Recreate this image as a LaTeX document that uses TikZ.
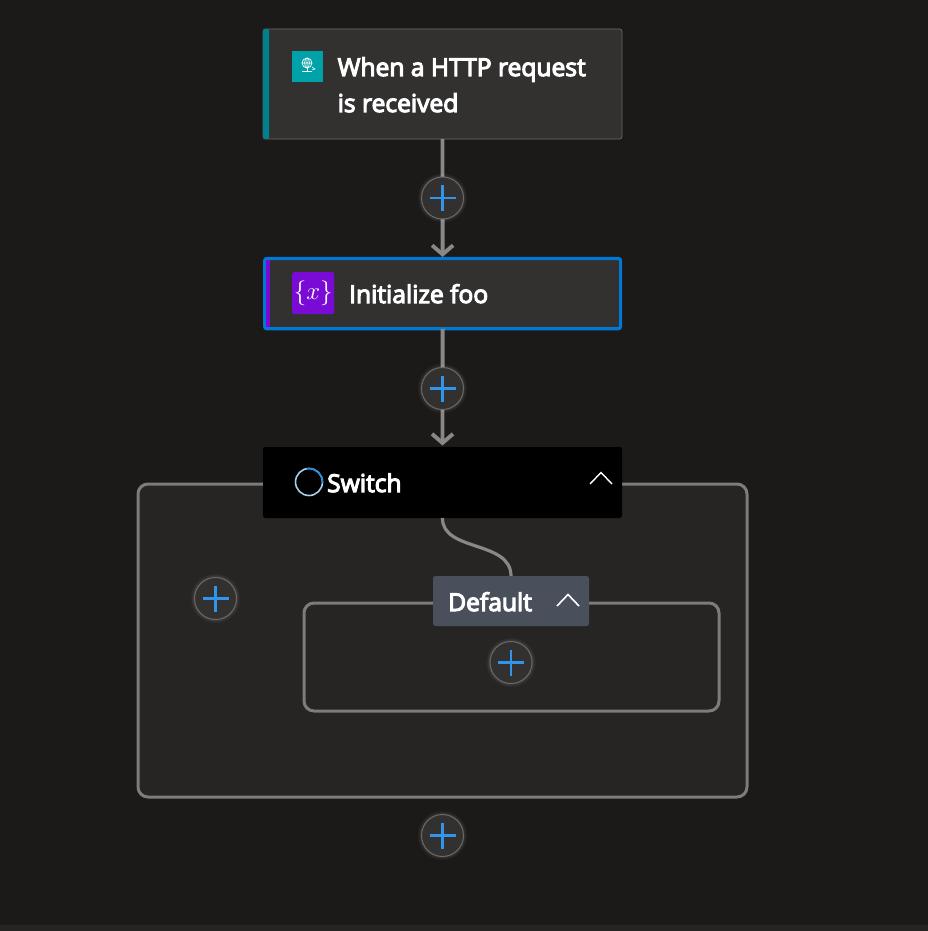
\documentclass[tikz,border=0pt]{standalone}
\usepackage{fontspec}
\setmainfont{Open Sans}[FakeBold=4.5]
\usetikzlibrary{arrows.meta,calc}
\definecolor{bgdark}{HTML}{1B1A19}
\definecolor{bandc}{HTML}{252423}
\definecolor{cardc}{HTML}{323130}
\definecolor{contc}{HTML}{262524}
\definecolor{linec}{HTML}{8A8886}
\definecolor{contline}{HTML}{7D7C7A}
\definecolor{edgec}{HTML}{6A6968}
\definecolor{plusc}{HTML}{2F96EC}
\definecolor{bluec}{HTML}{0078D4}
\definecolor{tealc}{HTML}{007F8C}
\definecolor{tealicon}{HTML}{00A2AA}
\definecolor{purplec}{HTML}{7A0BD6}
\definecolor{defc}{HTML}{4A505B}
\tikzset{
  cardbox/.style={rectangle,rounded corners=2.5pt,minimum width=359pt,inner sep=0pt,outer sep=0pt,anchor=north west},
  label/.style={text=white,font=\fontsize{24.6}{36}\selectfont,anchor=base west,inner sep=0pt,align=left},
  flow/.style={draw=linec,line width=3.9pt},
  flowarrow/.style={flow,shorten >=1.5pt,-{Straight Barb[length=9pt,width=21pt,line width=3.9pt]}},
  contbox/.style={rectangle,draw=contline,line width=3pt,rounded corners=10pt,inner sep=0pt,outer sep=0pt,anchor=north west},
  addbtn/.style={circle,minimum size=42pt,inner sep=0pt,outer sep=0pt,fill=cardc,draw=edgec,line width=1pt,
    path picture={\draw[plusc,line width=2.6pt] ($(path picture bounding box.center)+(-13pt,0)$)--++(26pt,0)
      ($(path picture bounding box.center)+(0,-13pt)$)--++(0,26pt);}},
  chev/.style={draw=white,line width=1.4pt},
}
\newcommand{\addglow}[1]{\foreach \r/\o in {25/0.02,24/0.03,23/0.04,22/0.05}{\fill[white,opacity=\o] (#1) circle (\r pt);}}
\begin{document}
\begin{tikzpicture}[x=1pt,y=-1pt]
\useasboundingbox (0,0) rectangle (928,931);
\fill[bgdark] (0,0) rectangle (928,931);
\fill[bandc] (0,925) rectangle (928,931);
% containers
\node[contbox,fill=contc,minimum width=609pt,minimum height=313pt] (outer) at (138,484) {};
\node[contbox,fill=contc,minimum width=415pt,minimum height=108pt] (inner) at (304,603) {};
% cards
\node[cardbox,fill=cardc,draw=edgec,line width=0.8pt,minimum height=110pt] (trigger) at (263,29) {};
\fill[tealc,rounded corners=1.5pt] (263,29) rectangle (269,139);
\node[cardbox,fill=cardc,draw=bluec,line width=3.2pt,minimum width=356pt,minimum height=70.4pt] (init) at (264.6,258.4) {};
\fill[purplec] (266.2,260) rectangle (269.5,327.2);
\node[cardbox,fill=black,minimum height=71pt] (switch) at (263,447) {};
\node[rectangle,rounded corners=2.5pt,fill=defc,minimum width=156pt,minimum height=50pt,inner sep=0pt,outer sep=0pt,anchor=north west] (default) at (433,576) {};
% icons
\node[rectangle,fill=tealicon,minimum size=31pt,inner sep=0pt,anchor=north west] (httpicon) at (291.5,51) {};
\draw[white,line width=0.7pt] (307,63) circle (5pt) (302,63)--(312,63) (307,58) -- (307,68);
\draw[white,line width=0.7pt] (307,63) ellipse (2.4pt and 5pt);
\draw[white,line width=0.9pt] (302,71)--(312,71) (307,68)--(307,71);
\draw[white,line width=0.6pt] (312,67)--(315,69)--(312,70);
\node[rectangle,rounded corners=2pt,fill=purplec,minimum size=42pt,inner sep=0pt,text=white,font=\fontsize{24}{24}\selectfont,anchor=north west] (varicon) at (292,272) {\fontspec{Latin Modern Roman}$\{x\}$};
% spinner
\node[circle,minimum size=27pt,inner sep=0pt,draw=white!65!bluec,line width=1.6pt] (spin) at (309,482) {};
\draw[bluec!85!white,line width=1.6pt] ([shift={(100:13.5pt)}]spin.center) arc (100:-5:13.5pt);
% labels
\node[label] (l1) at (337.5,76) {When a HTTP request};
\node[label] (l2) at (337.5,112) {is received};
\node[label] (l3) at (349,303) {Initialize foo};
\node[label] (l4) at (327,492) {Switch};
\node[label] (l5) at (448,611) {Default};
% chevrons
\coordinate (c1) at (601,472.5);
\draw[chev] ($(c1)+(-11,11.5)$)--(c1)--($(c1)+(11,11.5)$);
\coordinate (c2) at (568,594.5);
\draw[chev,line width=1.6pt] ($(c2)+(-11,11.5)$)--(c2)--($(c2)+(11,11.5)$);
% add buttons
\coordinate (a1) at (442.5,198);
\coordinate (a2) at (442.5,388.5);
\coordinate (a3) at (215.5,598.5);
\coordinate (a4) at (511,662.5);
\coordinate (a5) at (442.5,835.5);
% connectors
\draw[flowarrow] (trigger.south) -- (init.north);
\draw[flowarrow] (init.south) -- (switch.north);
\draw[flow,line width=3.2pt] (switch.south) .. controls (442,552) and (511,540) .. (default.north);
\addglow{a1} \addglow{a2} \addglow{a3} \addglow{a4} \addglow{a5}
\node[addbtn] (p1) at (a1) {};
\node[addbtn] (p2) at (a2) {};
\node[addbtn] (p3) at (a3) {};
\node[addbtn] (p4) at (a4) {};
\node[addbtn] (p5) at (a5) {};
\end{tikzpicture}
\end{document}
